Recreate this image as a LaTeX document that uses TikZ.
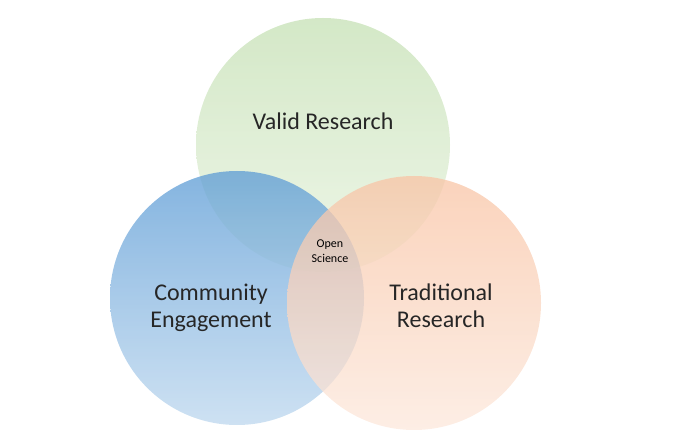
\documentclass[tikz,border=0pt]{standalone}
\usepackage{fontspec}
\setmainfont{Carlito}
\begin{document}
\begin{tikzpicture}[x=1pt,y=-1pt,
 circ/.style={circle,minimum size=254pt,inner sep=0pt,draw=none,fill opacity=0.75},
 lbl/.style={font=\fontsize{24}{27}\selectfont,align=center,text=black!85},
 small/.style={font=\fontsize{12}{15}\selectfont,align=center}]
\useasboundingbox (0,0) rectangle (677,446);
\node[circ,top color=green!35!olive!25!white,bottom color=green!10!white,top color={rgb,255:red,197;green,224;blue,180},bottom color={rgb,255:red,232;green,243;blue,224}] (valid) at (323,145) {};
\node[circ,top color={rgb,255:red,91;green,155;blue,213},bottom color={rgb,255:red,189;green,215;blue,238}] (comm) at (237,298) {};
\node[circ,top color={rgb,255:red,248;green,196;blue,165},bottom color={rgb,255:red,252;green,232;blue,220}] (trad) at (414,303) {};
\node[lbl] (vt) at (323,121) {Valid Research};
\node[lbl] (ct) at (211,308) {Community\\Engagement};
\node[lbl] (tt) at (441,306) {Traditional\\Research};
\node[small] (os) at (330,251) {Open\\Science};
\end{tikzpicture}
\end{document}
